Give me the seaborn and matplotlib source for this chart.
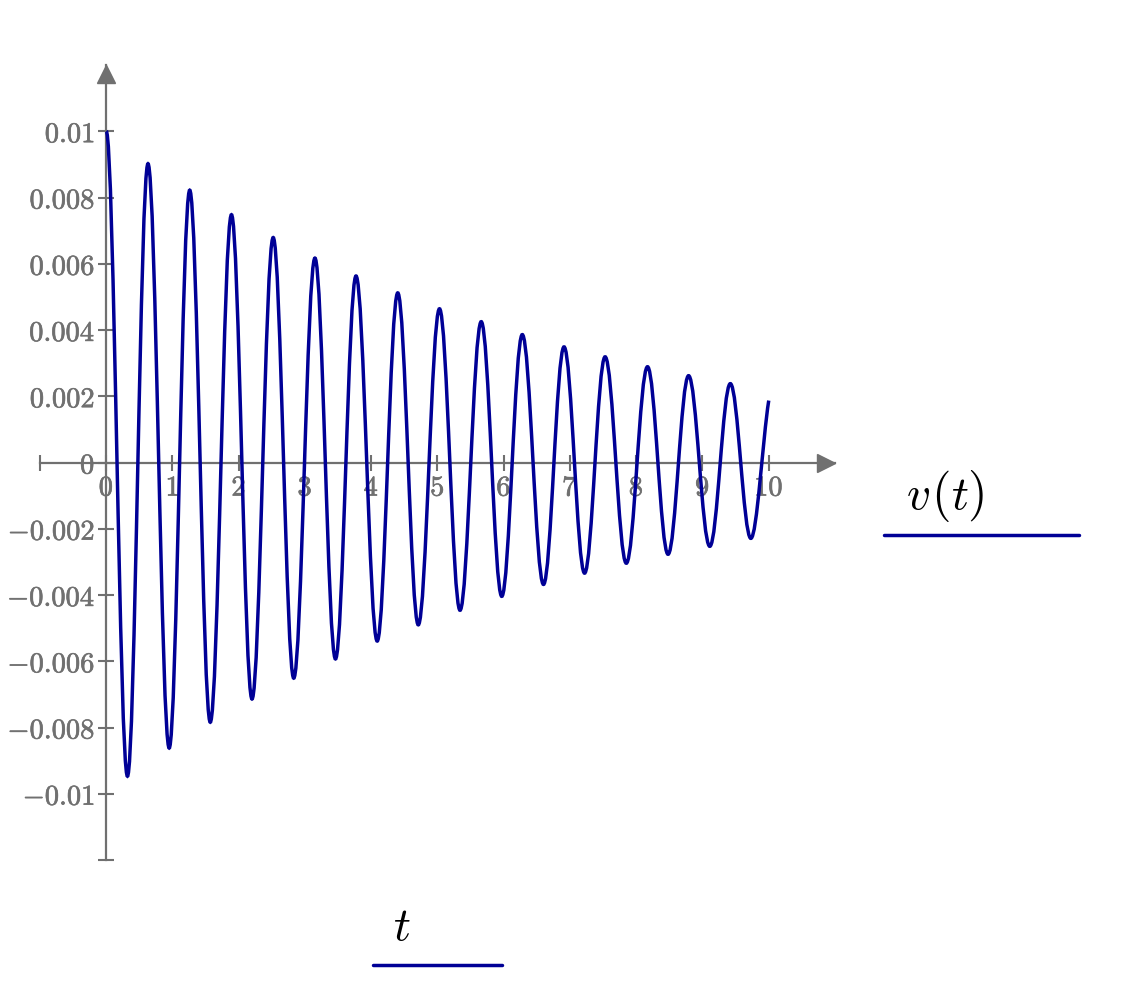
import numpy as np
import pandas as pd
import matplotlib
matplotlib.use("Agg")
import matplotlib.pyplot as plt
import matplotlib.patheffects as pe
import seaborn as sns
from matplotlib.path import Path
from matplotlib.patches import PathPatch
from matplotlib.lines import Line2D

# tepe ve çukur noktaları
peak_t = [0.0, 0.63, 1.26, 1.89, 2.52, 3.15, 3.77, 4.40, 5.03, 5.66, 6.28, 6.91, 7.53, 8.17, 8.79, 9.42]
peak_v = [0.0100, 0.00902, 0.00822, 0.00748, 0.00679, 0.00617, 0.00563, 0.00512,
          0.00464, 0.00425, 0.00386, 0.00349, 0.00319, 0.00289, 0.00262, 0.00238]
trough_t = [0.32, 0.95, 1.57, 2.20, 2.83, 3.46, 4.09, 4.71, 5.34, 5.97, 6.60, 7.22, 7.85, 8.48, 9.11, 9.73]
trough_v = [-0.00947, -0.00862, -0.00784, -0.00714, -0.00651, -0.00593, -0.00539, -0.00490,
            -0.00446, -0.00404, -0.00368, -0.00334, -0.00304, -0.00277, -0.00253, -0.00229]
end_t, end_v = 10.0, 0.00187
end_slope = 0.0125  # eğrinin t=10'daki eğimi (tahmini)

x_ticks = list(range(-1, 11))
y_ticks = [-0.012, -0.01, -0.008, -0.006, -0.004, -0.002, 0, 0.002, 0.004, 0.006, 0.008, 0.01]
y_labels = ['', '-0.01', '-0.008', '-0.006', '-0.004', '-0.002', '0',
            '0.002', '0.004', '0.006', '0.008', '0.01']

grey = '#707070'
blue = '#000096'


def tex_label(s):
    if s == '':
        return ''
    if s.startswith('-'):
        return r'$-\mathbf{' + s[1:] + '}$'
    return r'$\mathbf{' + s + '}$'


sns.set_theme(style="white")
plt.rcParams['mathtext.fontset'] = 'cm'
plt.rcParams['font.family'] = ['DejaVu Sans']

W, H = 1129, 991
fig = plt.figure(figsize=(W / 100, H / 100), dpi=100)
ax = fig.add_axes([40 / W, (H - 860) / H, 795 / W, 795 / H])
ax.set_xlim(-1, 11)
ax.set_ylim(-0.012, 0.012)

# eksenler orijinden geçiyor
for side in ['top', 'right']:
    ax.spines[side].set_visible(False)
for side in ['left', 'bottom']:
    ax.spines[side].set_position(('data', 0))
    ax.spines[side].set_color(grey)
    ax.spines[side].set_linewidth(1.6)

ax.set_xticks(x_ticks)
ax.set_xticklabels([''] + [tex_label(str(i)) for i in range(11)])
ax.set_yticks(y_ticks)
ax.set_yticklabels([tex_label(s) for s in y_labels])
ax.tick_params(axis='both', direction='inout', length=12, width=1.5, colors=grey,
               labelcolor=grey, labelsize=20.5, bottom=True, left=True)
ax.tick_params(axis='x', pad=2)
ax.tick_params(axis='y', pad=2)
ax.grid(False)
for lab in ax.get_xticklabels() + ax.get_yticklabels():
    lab.set_path_effects([pe.withStroke(linewidth=0.45, foreground=grey)])

# ok uçları
px_x = 12 / 795
px_y = 0.024 / 795
ax.plot([11 - 8.5 * px_x], [0], marker='>', ms=13, color=grey, clip_on=False, zorder=3)
ax.plot([0], [0.012 - 8.5 * px_y], marker='^', ms=13, color=grey, clip_on=False, zorder=3)

# eğri: ardışık tepe/çukurlar arasında kübik Bezier parçaları
ext = sorted(list(zip(peak_t, peak_v)) + list(zip(trough_t, trough_v)))
k = 0.3634
verts = [ext[0]]
codes = [Path.MOVETO]
for (t0, a0), (t1, a1) in zip(ext[:-1], ext[1:]):
    dt = t1 - t0
    verts += [(t0 + k * dt, a0), (t1 - k * dt, a1), (t1, a1)]
    codes += [Path.CURVE4] * 3
t0, a0 = ext[-1]
dt = end_t - t0
verts += [(t0 + dt / 3, a0), (end_t - dt / 3, end_v - end_slope * dt / 3), (end_t, end_v)]
codes += [Path.CURVE4] * 3
ax.add_patch(PathPatch(Path(verts, codes), fill=False, edgecolor=blue, lw=2.5,
                       capstyle='butt', zorder=4))

# etiketler: v(t) büyük parantezlerle
base_y = 1 - 509 / H
fig.text(906 / W, base_y, r'$v$', fontsize=34, color='black', ha='left', va='baseline')
fig.text(931 / W, base_y, r'$($', fontsize=36, color='black', ha='left', va='baseline')
fig.text(951 / W, base_y, r'$t$', fontsize=34, color='black', ha='left', va='baseline')
fig.text(967 / W, base_y, r'$)$', fontsize=36, color='black', ha='left', va='baseline')
fig.add_artist(Line2D([884 / W, 1079 / W], [1 - 535 / H, 1 - 535 / H], color=blue, lw=2.5))
fig.text(393 / W, 1 - 940 / H, r'$t$', fontsize=34, color='black', ha='left', va='baseline')
fig.add_artist(Line2D([373 / W, 502 / W], [1 - 965 / H, 1 - 965 / H], color=blue, lw=2.5))

fig.savefig('out.png', dpi=100)
